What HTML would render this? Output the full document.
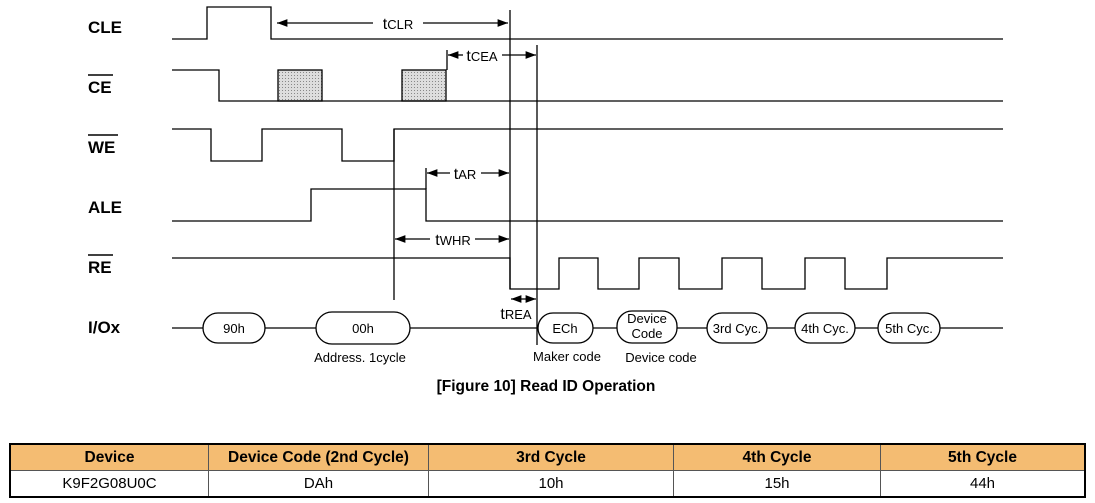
<!DOCTYPE html>
<html><head><style>
body{margin:0;background:#fff;width:1095px;height:503px;overflow:hidden;font-family:"Liberation Sans",sans-serif}
table{position:absolute;left:9px;top:443px;width:1077px;border-collapse:collapse;border:2.5px solid #000;font-size:15px}
td,th{border:1px solid #555;text-align:center;padding:0;height:25px}
th{background:#F4BC72;font-weight:bold;font-size:15.5px}
</style></head><body>
<svg width="1095" height="440" style="position:absolute;left:0;top:0" font-family="Liberation Sans, sans-serif">
<defs>
<pattern id="h" width="3" height="3" patternUnits="userSpaceOnUse"><rect width="3" height="3" fill="#ddd"/><rect width="1" height="1" fill="#888"/></pattern>
<marker id="a" markerWidth="8" markerHeight="6" refX="8" refY="3" orient="auto-start-reverse"><path d="M0,0L8,3L0,6z" fill="#000"/></marker>
</defs>
<g font-weight="bold" font-size="17">
<text x="88" y="33">CLE</text>
<text x="88" y="93">CE</text><line x1="88" y1="75" x2="113" y2="75" stroke="#000" stroke-width="1.5"/>
<text x="88" y="153">WE</text><line x1="88" y1="135" x2="118" y2="135" stroke="#000" stroke-width="1.5"/>
<text x="88" y="213">ALE</text>
<text x="88" y="273">RE</text><line x1="88" y1="255" x2="113" y2="255" stroke="#000" stroke-width="1.5"/>
<text x="88" y="333">I/Ox</text>
</g>
<g fill="none" stroke="#000" stroke-width="1.3">
<rect x="278" y="70" width="44" height="31" fill="url(#h)"/>
<rect x="402" y="70" width="44" height="31" fill="url(#h)"/>
<polyline points="172,39 207,39 207,7 271,7 271,39 1003,39"/>
<polyline points="172,70 219,70 219,101 1003,101"/>
<polyline points="172,129 211,129 211,161 262,161 262,129 342,129 342,161 394,161 394,129 1003,129"/>
<line x1="394" y1="129" x2="394" y2="300"/>
<polyline points="172,221 311,221 311,189 426,189 426,221 1003,221"/>
<line x1="426" y1="168" x2="426" y2="189"/>
<polyline points="172,258 510,258 510,289 559,289 559,258 598,258 598,289 639,289 639,258 679,258 679,289 722,289 722,258 762,258 762,289 805,289 805,258 845,258 845,289 887,289 887,258 1003,258"/>
<line x1="510" y1="10" x2="510" y2="289"/>
<line x1="537" y1="45" x2="537" y2="345"/>
<line x1="447" y1="50" x2="447" y2="70"/>
<line x1="277" y1="23" x2="373" y2="23" marker-start="url(#a)"/>
<line x1="423" y1="23" x2="508" y2="23" marker-end="url(#a)"/>
<line x1="448" y1="55" x2="463" y2="55" marker-start="url(#a)"/>
<line x1="502" y1="55" x2="536" y2="55" marker-end="url(#a)"/>
<line x1="427" y1="173" x2="450" y2="173" marker-start="url(#a)"/>
<line x1="481" y1="173" x2="509" y2="173" marker-end="url(#a)"/>
<line x1="395" y1="239" x2="430" y2="239" marker-start="url(#a)"/>
<line x1="475" y1="239" x2="509" y2="239" marker-end="url(#a)"/>
<line x1="511" y1="299" x2="536" y2="299" marker-start="url(#a)" marker-end="url(#a)"/>
<polyline points="172,328 203,328"/><line x1="265" y1="328" x2="316" y2="328"/>
<line x1="410" y1="328" x2="538" y2="328"/><line x1="593" y1="328" x2="617" y2="328"/>
<line x1="677" y1="328" x2="707" y2="328"/><line x1="767" y1="328" x2="795" y2="328"/>
<line x1="855" y1="328" x2="878" y2="328"/><line x1="940" y1="328" x2="1003" y2="328"/>
<rect x="203" y="313" width="62" height="30" rx="15"/>
<rect x="316" y="312" width="94" height="32" rx="16"/>
<rect x="538" y="313" width="55" height="30" rx="15"/>
<rect x="617" y="311" width="60" height="32" rx="15"/>
<rect x="707" y="313" width="60" height="30" rx="15"/>
<rect x="795" y="313" width="60" height="30" rx="15"/>
<rect x="878" y="313" width="62" height="30" rx="15"/>
</g>
<g font-size="13" text-anchor="middle">
<text x="398" y="29" font-size="16">t<tspan font-size="13">CLR</tspan></text>
<text x="482" y="61" font-size="16">t<tspan font-size="13">CEA</tspan></text>
<text x="465" y="179" font-size="16">t<tspan font-size="13">AR</tspan></text>
<text x="453" y="245" font-size="16">t<tspan font-size="13">WHR</tspan></text>
<text x="516" y="319" font-size="16">t<tspan font-size="13">REA</tspan></text>
<text x="234" y="333">90h</text>
<text x="363" y="333">00h</text>
<text x="565" y="333">ECh</text>
<text x="647" y="323">Device</text><text x="647" y="338">Code</text>
<text x="737" y="333">3rd Cyc.</text>
<text x="825" y="333">4th Cyc.</text>
<text x="909" y="333">5th Cyc.</text>
<text x="360" y="362">Address. 1cycle</text>
<text x="567" y="361">Maker code</text>
<text x="661" y="362">Device code</text>
<text x="546" y="391" font-size="15.5" font-weight="bold">[Figure 10] Read ID Operation</text>
</g>
</svg>
<table>
<tr><th style="width:197px">Device</th><th style="width:219px">Device Code (2nd Cycle)</th><th style="width:244px">3rd Cycle</th><th style="width:206px">4th Cycle</th><th>5th Cycle</th></tr>
<tr><td>K9F2G08U0C</td><td>DAh</td><td>10h</td><td>15h</td><td>44h</td></tr>
</table>
</body></html>
